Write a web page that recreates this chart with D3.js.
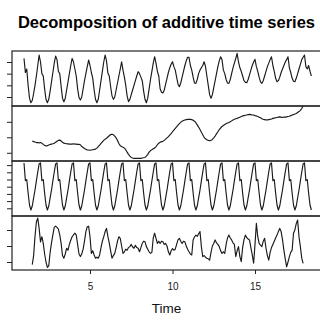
<!DOCTYPE html>
<html>
<head>
<meta charset="utf-8">
<script src="https://cdn.jsdelivr.net/npm/d3@7"></script>
<style>
  html, body { margin: 0; padding: 0; background: #fff; }
  svg { display: block; }
</style>
</head>
<body>
<div id="chart"></div>
<script>
// monthly-style series: ts(start = 1, frequency = 12)
var tsStart = 1;
var tsFrequency = 12;

var observed = [
  53.1, 41, 44, 30, 19, 15.1, 17, 23, 30, 38, 47, 56.0,
  50, 40, 38, 27, 18, 15.1, 18, 25, 33, 41, 49, 55.1,
  52, 42, 40, 29, 19, 16, 19, 26, 33, 40, 47, 53.1,
  50, 44, 38, 27, 19.5, 17.4, 20, 27, 34, 40, 46, 51.7,
  47, 41, 36, 26, 18, 15.1, 18, 26, 34, 42, 50, 56.0,
  51, 40.5, 38, 29, 21, 18, 20, 26, 32, 38, 44, 50.2,
  43, 37, 30, 21, 16, 18, 22, 26, 30, 34, 38, 41.7,
  40, 37, 34, 25, 18, 15.1, 19, 27, 35, 42, 49, 54.5,
  49, 42, 38, 27, 24, 23.4, 26, 31, 36, 41, 45, 48,
  50.2, 46, 43, 37, 31, 28.8, 32, 37, 42, 47, 51, 54,
  54, 47, 43, 37, 32, 31.7, 35, 40, 43, 45, 47, 50.2,
  46, 38, 30, 22, 18.9, 22, 28, 34, 40, 46, 51, 54.5,
  52, 43, 40, 35, 32, 31.7, 35, 40, 45, 49, 53, 57.4,
  50, 45, 42, 38, 34, 32.5, 32.2, 35, 39, 43, 47, 50,
  52.3, 46, 42, 37, 33, 31.7, 34, 38, 42, 46, 49, 52,
  54.5, 47, 42, 36, 33.1, 34, 37, 41, 44, 47, 50, 52,
  54.5, 45, 41, 36, 33.5, 33.1, 36, 40, 44, 48, 52, 54,
  56, 46, 44, 47, 42, 38
];

// trend and random are NA for the first and last 6 points
var componentOffset = 6;

var trend = [
  23.8, 23.6, 23.5, 23.3, 23.3, 23.2,
  23.3, 23.1, 22.7, 22.4, 22.2, 22.3,
  22.5, 22.7, 22.8, 22.9, 23.1, 23.4,
  23.7, 24.0, 24.1, 23.8, 23.4, 23.1,
  23.0, 22.9, 22.9, 22.8, 22.8, 22.8,
  22.9, 22.8, 22.8, 22.7, 22.7, 22.6,
  22.0, 21.7, 21.4, 21.1, 20.9, 20.9,
  20.8, 20.9, 21.0, 21.1, 21.2, 21.5,
  22.0, 22.5, 23.0, 23.5, 24.0, 24.4,
  24.7, 25.1, 25.5, 25.9, 26.0, 25.8,
  25.4, 24.8, 24.0, 23.0, 22.3, 22.0,
  21.8, 21.5, 21.0, 20.2, 19.5, 18.9,
  18.5, 18.3, 18.2, 18.2, 18.2, 18.2,
  18.2, 18.2, 18.3, 18.4, 18.5, 18.9,
  19.5, 20.2, 20.7, 21.0, 21.3, 21.5,
  22.0, 22.6, 23.1, 23.4, 23.6, 23.7,
  24.0, 24.4, 24.8, 25.2, 25.7, 26.2,
  26.8, 27.3, 27.9, 28.4, 28.9, 29.4,
  29.8, 30.2, 30.4, 30.6, 30.7, 30.8,
  30.8, 30.8, 30.7, 30.5, 30.2, 29.7,
  29.0, 28.3, 27.5, 26.6, 25.8, 25.0,
  24.5, 24.2, 24.0, 23.9, 24.0, 24.3,
  24.8, 25.4, 26.1, 26.8, 27.5, 28.0,
  28.5, 28.8, 29.1, 29.4, 29.6, 29.8,
  30.0, 30.3, 30.6, 30.8, 31.0, 31.1,
  31.3, 31.5, 31.7, 31.9, 32.0, 32.1,
  32.2, 32.3, 32.4, 32.3, 32.2, 32.2,
  32.0, 31.9, 31.7, 31.5, 31.3, 31.0,
  30.8, 30.7, 30.6, 30.6, 30.7, 30.8,
  30.9, 31.1, 31.2, 31.3, 31.4, 31.5,
  31.6, 31.5, 31.4, 31.5, 31.5, 31.6,
  31.7, 31.8, 32.0, 32.2, 32.3, 32.5,
  32.7, 33.0, 33.3, 33.7, 34.3, 35.1
];

// seasonal figure, one value per period position (repeated over the series)
var seasonalFigure = [ 16.5, 4.2, 5.0, -4.4, -12.7, -16.2, -13.4, -7.8, -2.3, 4.0, 10.2, 15.8 ];

var random = [
  -5.8, -3.0, 3.0, 7.5, 8.7, 5.5,
  1.3, 2.9, 0.8, -2.5, -5.0, -6.7,
  -6.2, -2.0, 1.0, 3.5, 5.8, 6.2,
  5.8, 5.3, 3.5, 0.8, -3.0, -3.8,
  -2.5, -0.7, -1.3, 0.5, 1.8, 2.9,
  3.5, 4.0, 3.4, 0.5, -2.5, -3.3,
  -2.5, -1.0, 1.5, 4.5, 6.0, 6.2,
  2.9, -2.3, -1.5, -2.8, -3.8, -3.5,
  -3.8, -2.8, -0.5, 1.5, 2.9, 4.5,
  5.5, 3.0, 1.0, -1.5, -3.8, -3.0,
  -2.3, -0.5, 1.5, 2.9, 2.4, 0.0,
  -2.3, -1.8, -1.0, -1.3, -0.5, -0.2,
  0.5, -0.3, -0.7, 0.2, -0.5, -0.7,
  -1.8, -0.5, 0.8, 1.5, 1.3, -0.2,
  -1.0, -1.8, -2.3, -2.0, 2.5, 4.0,
  2.4, 0.8, 1.5, 0.8, 1.5, 1.3,
  0.5, 0.8, 0.0, -1.8, -2.8, -1.5,
  -0.8, -1.3, -1.0, 0.5, 1.9, 2.4,
  1.5, 0.8, 1.5, 1.3, 0.0, -1.0,
  -1.8, -2.5, -2.8, 1.9, 2.8, 3.4,
  3.0, 3.8, 4.5, -0.2, -3.3, -3.0,
  -3.5, -3.8, -4.0, -4.4, -2.0, 0.0,
  0.8, 1.9, 1.0, 0.5, -0.2, -1.5,
  -2.3, -1.8, -2.3, 0.5, 2.5, 3.4,
  2.5, 1.9, 1.0, 0.5, -3.3, -1.5,
  -0.2, -3.3, -4.9, -0.5, 2.0, 3.4,
  2.6, 2.2, 1.9, -0.5, -2.8, -5.4,
  0.5, 7.1, 2.9, 0.8, 0.3, -0.2,
  1.5, 2.4, -0.7, -3.0, -4.4, -2.0,
  -0.5, 0.5, 1.5, 2.5, 3.4, 4.5,
  5.5, 4.5, 2.0, -1.3, -4.0, -6.5,
  -5.0, -3.3, -2.0, -1.3, 4.0, 5.0,
  7.0, 8.1, 2.9, -0.2, -3.8, -5.4
];

var timeTicks = [ 5, 10, 15 ];
var observedTicks = [ 20, 30, 40, 50 ];
var trendTicks = [ 20, 25, 30 ];
var seasonalTicks = [ -15, -10, -5, 0, 5, 10, 15 ];
var randomTicks = [ -5, 0, 5 ];

var titleText = "Decomposition of additive time series";
var xLabel = "Time";

// ---- layout ----
var width = 320, height = 320;
var left = 12, right = 325;
var fontFamily = "'Liberation Sans', Arial, Helvetica, sans-serif";

function timeAt( i ) { return tsStart + i / tsFrequency; }

var xScale = d3.scaleLinear()
  .domain( [ 0.2727, 19.2424 ] )
  .range( [ left, right ] );

var panels = [
  { values: observed.map( function ( v, i ) { return { t: timeAt( i ), v: v }; } ),
    top: 51, bottom: 106, domain: [ 12.29, 59.42 ], ticks: observedTicks },
  { values: trend.map( function ( v, i ) { return { t: timeAt( i + componentOffset ), v: v }; } ),
    top: 106, bottom: 161, domain: [ 17.35, 35.1 ], ticks: trendTicks },
  { values: observed.map( function ( v, i ) { return { t: timeAt( i ), v: seasonalFigure[ i % tsFrequency ] }; } ),
    top: 161, bottom: 216, domain: [ -20.35, 17.85 ], ticks: seasonalTicks },
  { values: random.map( function ( v, i ) { return { t: timeAt( i + componentOffset ), v: v }; } ),
    top: 216, bottom: 270, domain: [ -7.5, 9.375 ], ticks: randomTicks }
];

var svg = d3.select( "#chart" ).append( "svg" )
  .attr( "width", width )
  .attr( "height", height )
  .attr( "viewBox", [ 0, 0, width, height ] );

svg.append( "rect" )
  .attr( "width", width ).attr( "height", height )
  .attr( "fill", "#fff" );

panels.forEach( function ( p ) {
  var yScale = d3.scaleLinear().domain( p.domain ).range( [ p.bottom, p.top ] );
  var g = svg.append( "g" );

  g.append( "path" )
    .datum( p.values )
    .attr( "fill", "none" )
    .attr( "stroke", "#1a1a1a" )
    .attr( "stroke-width", 1.15 )
    .attr( "stroke-linejoin", "round" )
    .attr( "d", d3.line()
      .x( function ( d ) { return xScale( d.t ); } )
      .y( function ( d ) { return yScale( d.v ); } ) );

  // y ticks (labels sit outside the cropped picture)
  g.append( "g" )
    .attr( "transform", "translate(" + left + ",0)" )
    .call( d3.axisLeft( yScale ).tickValues( p.ticks ).tickSize( 5 ).tickFormat( "" ) )
    .call( function ( a ) { a.select( ".domain" ).remove(); } )
    .selectAll( "line" ).attr( "stroke", "#222" );

  g.append( "rect" )
    .attr( "x", left )
    .attr( "y", p.top )
    .attr( "width", right - left )
    .attr( "height", p.bottom - p.top )
    .attr( "fill", "none" )
    .attr( "stroke", "#222" )
    .attr( "stroke-width", 1.2 );
} );

// time axis under the last panel
var xAxis = svg.append( "g" )
  .attr( "transform", "translate(0," + panels[ 3 ].bottom + ")" )
  .call( d3.axisBottom( xScale ).tickValues( timeTicks ).tickSize( 4 ).tickPadding( 8.5 ) );
xAxis.select( ".domain" ).remove();
xAxis.selectAll( "line" ).attr( "stroke", "#222" );
xAxis.selectAll( "text" )
  .attr( "fill", "#222" )
  .style( "font-family", fontFamily )
  .style( "font-size", "10px" );

svg.append( "text" )
  .attr( "x", 166.5 )
  .attr( "y", 313 )
  .attr( "text-anchor", "middle" )
  .style( "font-family", fontFamily )
  .style( "font-size", "13.5px" )
  .attr( "fill", "#111" )
  .text( xLabel );

svg.append( "text" )
  .attr( "x", 166.5 )
  .attr( "y", 27.5 )
  .attr( "text-anchor", "middle" )
  .style( "font-family", fontFamily )
  .style( "font-size", "16.5px" )
  .style( "font-weight", "bold" )
  .attr( "fill", "#000" )
  .text( titleText );
</script>
</body>
</html>
